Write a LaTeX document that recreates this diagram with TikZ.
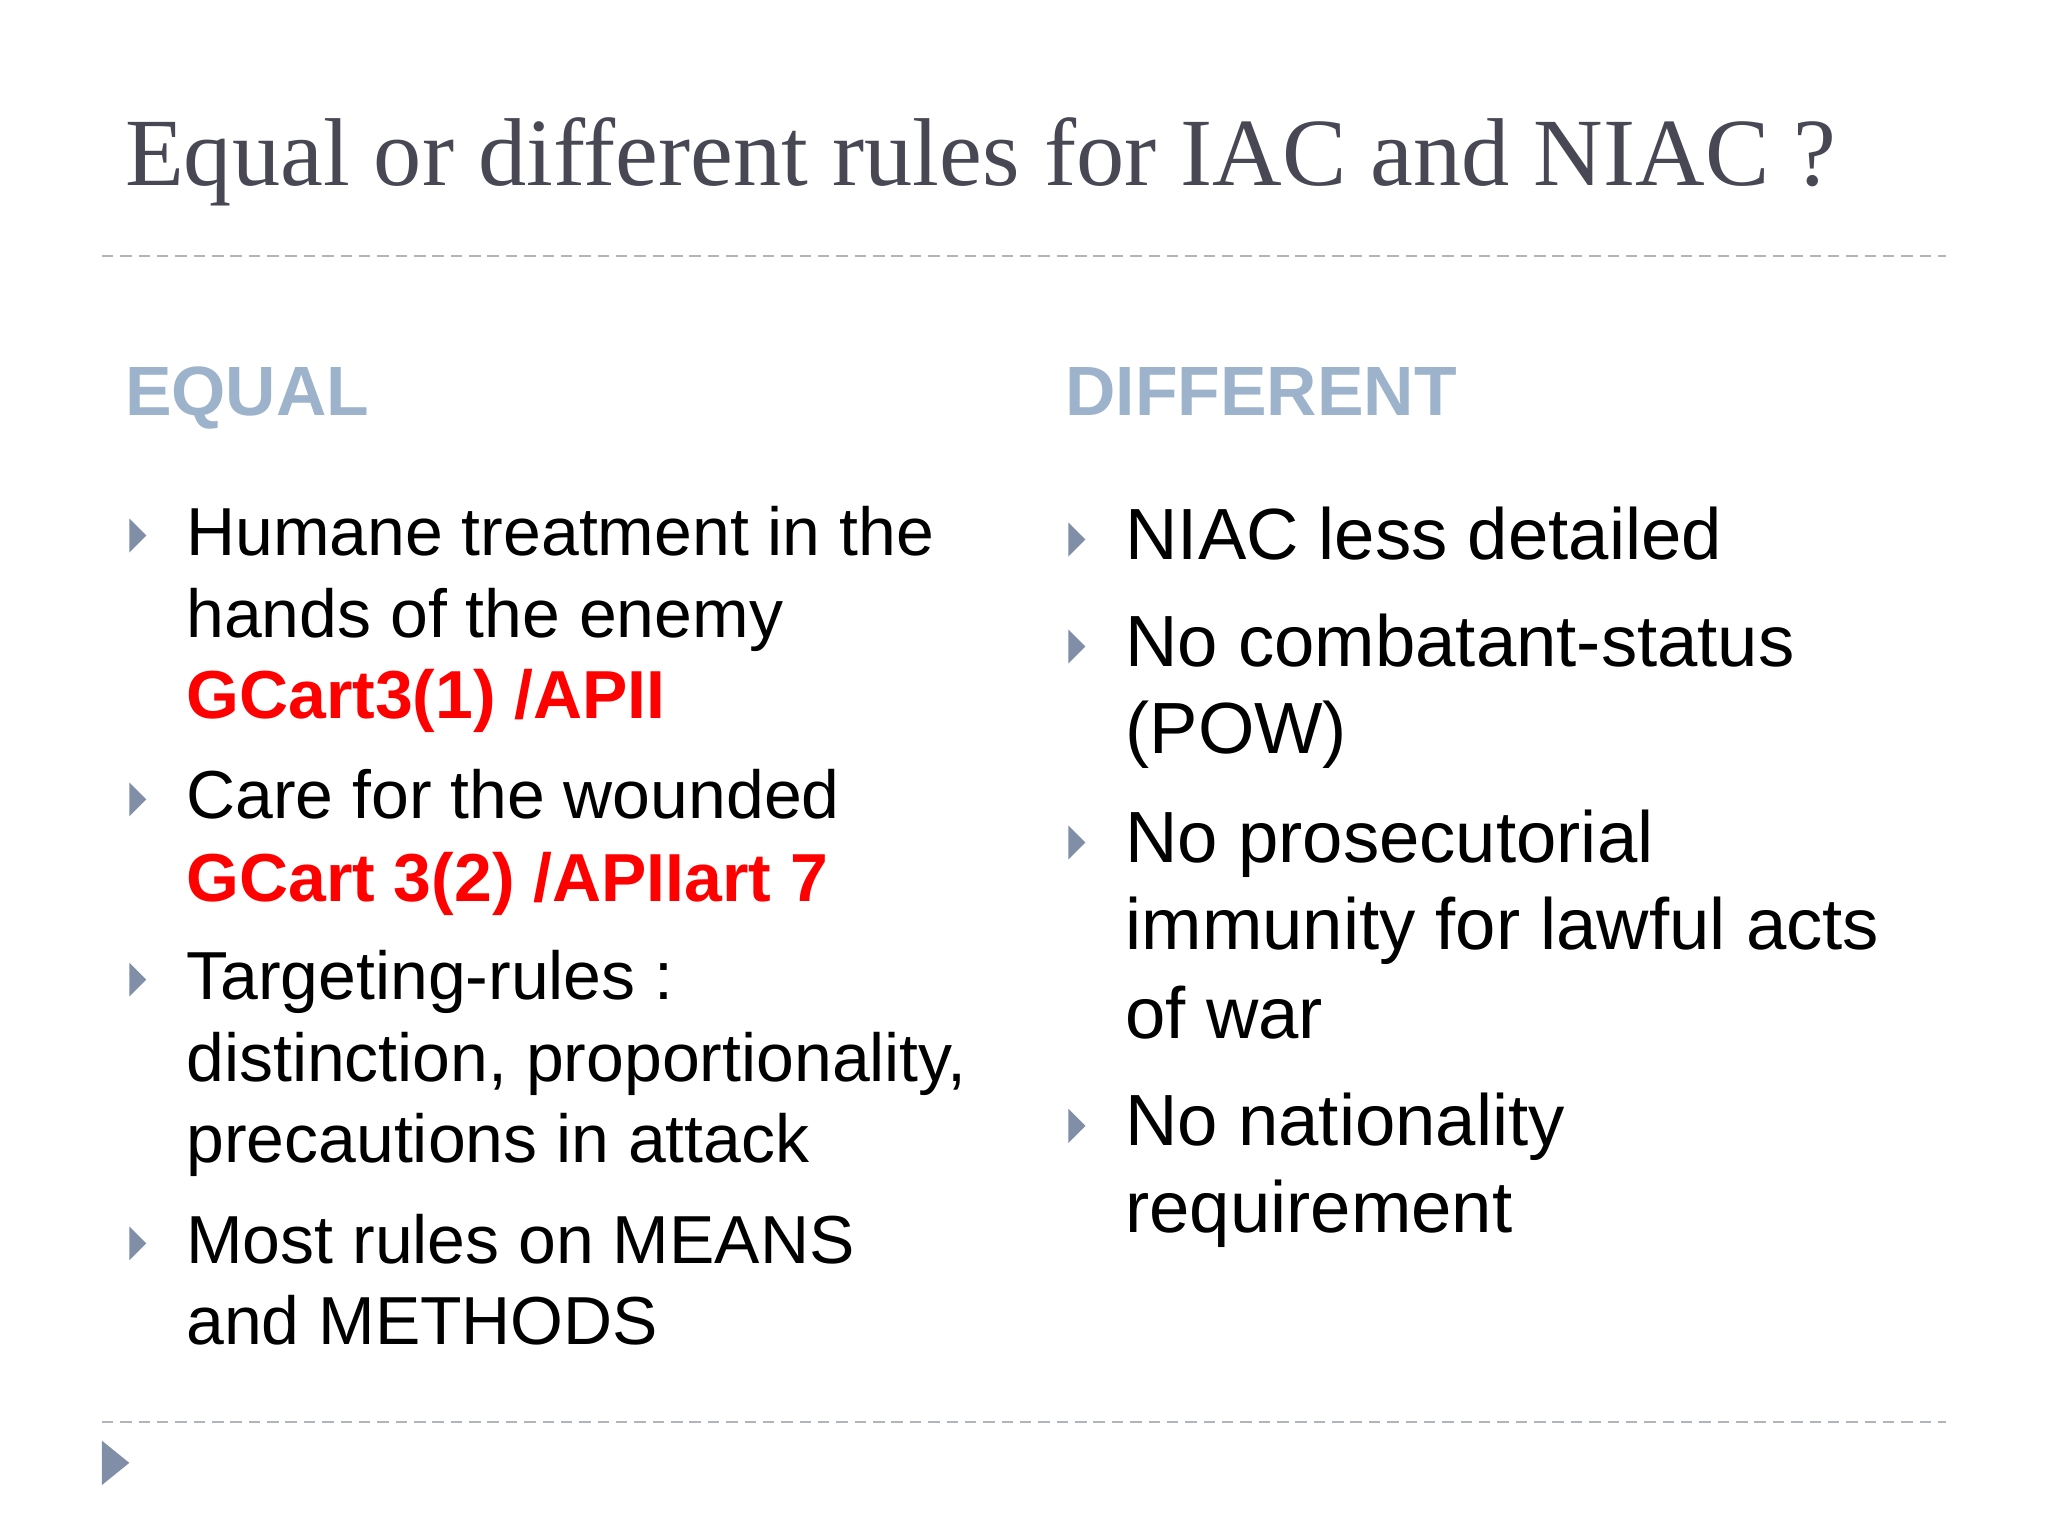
\documentclass[tikz,border=0pt]{standalone}
\usepackage{fontspec}
\setmainfont{Liberation Sans}
\newfontfamily\titlefont{Liberation Serif}
\definecolor{titlegray}{RGB}{72,72,84}
\definecolor{headblue}{RGB}{157,178,203}
\definecolor{bulletblue}{RGB}{128,142,168}
\definecolor{rulegray}{RGB}{175,180,190}
\begin{document}
\begin{tikzpicture}
    [x=0.1mm,y=-0.1mm,
     body/.style={anchor=base west,inner sep=0pt,font=\fontsize{14.8}{17}\selectfont},
     bodyr/.style={anchor=base west,inner sep=0pt,font=\fontsize{15.8}{18}\selectfont},
     refline/.style={body,text=red,font=\fontsize{14.8}{17}\selectfont\bfseries},
     head/.style={anchor=base west,inner sep=0pt,text=headblue,font=\fontsize{15.2}{18}\selectfont\bfseries},
     rule/.style={rulegray,dash pattern=on 2.5pt off 1.5pt,thin},
     bul/.style={fill=bulletblue}]
    \useasboundingbox (0,0) rectangle (1568,1176);
    \node [anchor=base west,inner sep=0pt,text=titlegray,font=\titlefont\fontsize{21}{25}\selectfont]
      (title) at (95,142) {Equal or different rules for IAC and NIAC ?};
    \coordinate (r1a) at (78,196);  \coordinate (r1b) at (1490,196);
    \coordinate (r2a) at (78,1089); \coordinate (r2b) at (1490,1089);
    \draw [rule] (r1a) -- (r1b);
    \draw [rule] (r2a) -- (r2b);
    \node [head] (equal) at (95,318) {EQUAL};
    \node [head] (diff) at (815,318) {DIFFERENT};
    % left column
    \foreach \n/\y/\txt/\st in {1/425/{Humane treatment in the}/body,
        2/488/{hands of the enemy}/body, 3/550/{GCart3(1) /APII}/refline,
        4/627/{Care for the wounded}/body, 5/690/{GCart 3(2) /APIIart 7}/refline,
        6/765/{Targeting-rules :}/body, 7/828/{distinction, proportionality,}/body,
        8/890/{precautions in attack}/body, 9/967/{Most rules on MEANS}/body,
        10/1029/{and METHODS}/body}
      \node [\st] (l\n) at (142,\y) {\txt};
    % right column
    \foreach \n/\y/\txt in {1/428/{NIAC less detailed}, 2/510/{No combatant-status},
        3/577/{(POW)}, 4/660/{No prosecutorial}, 5/727/{immunity for lawful acts},
        6/795/{of war}, 7/877/{No nationality}, 8/944/{requirement}}
      \node [bodyr] (r\n) at (861,\y) {\txt};
    % bullets
    \foreach \x/\y in {99/425, 99/627, 99/765, 99/967, 818/428, 818/510, 818/660, 818/877}
      \fill [bul] (\x,\y-28) -- (\x+13,\y-15) -- (\x,\y-2) -- cycle;
    \fill [bul] (78,1103) -- (99,1120) -- (78,1137) -- cycle;
\end{tikzpicture}
\end{document}
